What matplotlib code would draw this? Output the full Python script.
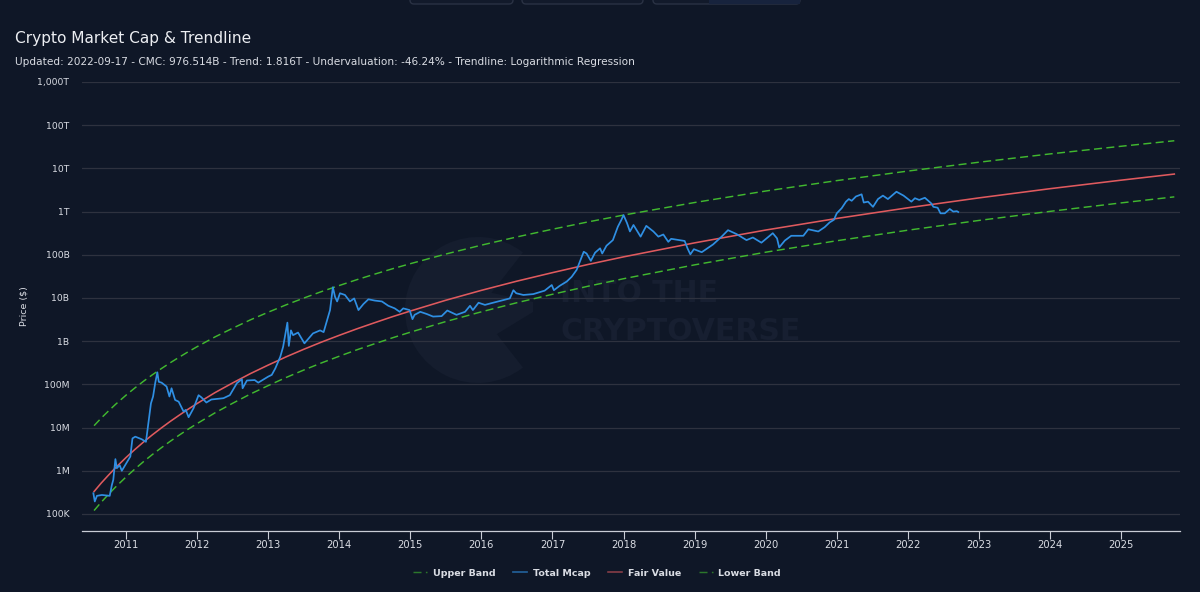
import numpy as np
import matplotlib
matplotlib.use("Agg")
import matplotlib.pyplot as plt
from matplotlib.patches import Wedge, FancyBboxPatch, Rectangle, Polygon

# all caps are log10 of USD
band_years = [2010.55, 2010.65, 2010.75, 2010.85, 2011, 2011.12, 2011.25, 2011.37, 2011.5, 2011.62, 2011.75, 2011.87,
              2012, 2012.25, 2012.5, 2012.75, 2013, 2013.25, 2013.5, 2013.75, 2014, 2014.25, 2014.5, 2014.75,
              2015, 2015.5, 2016, 2016.5, 2017, 2017.5, 2018, 2019, 2020, 2021, 2022, 2023, 2024, 2025, 2025.75]
upper_band = [7.044, 7.219, 7.380, 7.535, 7.751, 7.912, 8.078, 8.222, 8.369, 8.499, 8.632, 8.751,
              8.873, 9.098, 9.300, 9.494, 9.671, 9.840, 9.998, 10.148, 10.289, 10.425, 10.553, 10.677,
              10.794, 11.018, 11.223, 11.414, 11.592, 11.761, 11.919, 12.210, 12.476, 12.717, 12.938, 13.143, 13.335, 13.512, 13.640]
fair_value = [5.520, 5.715, 5.894, 6.067, 6.307, 6.487, 6.672, 6.832, 6.996, 7.141, 7.289, 7.422,
              7.558, 7.808, 8.034, 8.250, 8.447, 8.636, 8.812, 8.979, 9.136, 9.287, 9.429, 9.568,
              9.698, 9.948, 10.177, 10.390, 10.587, 10.776, 10.952, 11.276, 11.573, 11.841, 12.088, 12.317, 12.530, 12.727, 12.869]
lower_band = [5.080, 5.272, 5.449, 5.620, 5.858, 6.035, 6.218, 6.376, 6.538, 6.681, 6.828, 6.959,
              7.093, 7.340, 7.563, 7.777, 7.972, 8.158, 8.332, 8.497, 8.652, 8.802, 8.942, 9.079,
              9.208, 9.455, 9.680, 9.891, 10.086, 10.272, 10.446, 10.767, 11.060, 11.325, 11.569, 11.795, 12.005, 12.201, 12.341]

mcap_years = [2010.54, 2010.56, 2010.59, 2010.66, 2010.77, 2010.80, 2010.82, 2010.85, 2010.87, 2010.91, 2010.94,
              2011.01, 2011.06, 2011.09, 2011.13, 2011.22, 2011.28, 2011.31, 2011.35, 2011.38, 2011.41, 2011.44,
              2011.46, 2011.50, 2011.57, 2011.61, 2011.64, 2011.69, 2011.74, 2011.81, 2011.84, 2011.88, 2011.95,
              2012.02, 2012.06, 2012.13, 2012.20, 2012.37, 2012.46, 2012.56, 2012.63, 2012.64, 2012.70, 2012.81,
              2012.86, 2013.00, 2013.05, 2013.10, 2013.17, 2013.21, 2013.27, 2013.29, 2013.32, 2013.35, 2013.42,
              2013.51, 2013.63, 2013.73, 2013.78, 2013.87, 2013.91, 2013.94, 2013.97, 2014.01, 2014.08, 2014.15,
              2014.21, 2014.27, 2014.34, 2014.41, 2014.50, 2014.60, 2014.69, 2014.78, 2014.85, 2014.90, 2014.99,
              2015.03, 2015.06, 2015.14, 2015.23, 2015.32, 2015.44, 2015.52, 2015.65, 2015.77, 2015.84, 2015.88,
              2015.96, 2016.05, 2016.14, 2016.40, 2016.45, 2016.49, 2016.59, 2016.73, 2016.89, 2016.99, 2017.02,
              2017.10, 2017.20, 2017.27, 2017.34, 2017.40, 2017.44, 2017.48, 2017.54, 2017.60, 2017.67, 2017.70,
              2017.76, 2017.85, 2017.92, 2017.97, 2018.00, 2018.05, 2018.09, 2018.14, 2018.24, 2018.32, 2018.42,
              2018.49, 2018.56, 2018.63, 2018.67, 2018.86, 2018.90, 2018.94, 2018.99, 2019.10, 2019.26, 2019.38,
              2019.47, 2019.59, 2019.73, 2019.82, 2019.94, 2020.10, 2020.16, 2020.19, 2020.27, 2020.36, 2020.53,
              2020.60, 2020.74, 2020.83, 2020.90, 2020.96, 2021.00, 2021.07, 2021.13, 2021.17, 2021.21, 2021.27,
              2021.35, 2021.38, 2021.44, 2021.51, 2021.58, 2021.65, 2021.72, 2021.84, 2021.94, 2022.05, 2022.10,
              2022.16, 2022.24, 2022.33, 2022.36, 2022.42, 2022.46, 2022.52, 2022.59, 2022.64, 2022.69, 2022.71]
mcap = [5.48, 5.29, 5.42, 5.44, 5.42, 5.67, 5.79, 6.27, 6.06, 6.13, 6.00,
        6.19, 6.33, 6.75, 6.79, 6.73, 6.67, 7.06, 7.56, 7.72, 8.03, 8.28,
        8.06, 8.04, 7.95, 7.72, 7.91, 7.64, 7.60, 7.37, 7.41, 7.24, 7.45,
        7.75, 7.70, 7.58, 7.65, 7.68, 7.75, 8.03, 8.12, 7.91, 8.09, 8.10,
        8.04, 8.18, 8.22, 8.37, 8.64, 8.87, 9.43, 8.89, 9.25, 9.14, 9.20,
        8.95, 9.18, 9.25, 9.21, 9.72, 10.25, 10.03, 9.92, 10.11, 10.07, 9.92,
        9.99, 9.72, 9.86, 9.97, 9.94, 9.92, 9.82, 9.76, 9.68, 9.76, 9.72,
        9.51, 9.61, 9.68, 9.63, 9.57, 9.58, 9.71, 9.61, 9.68, 9.82, 9.72,
        9.89, 9.84, 9.88, 9.99, 10.18, 10.11, 10.07, 10.09, 10.17, 10.30, 10.18,
        10.28, 10.38, 10.49, 10.65, 10.90, 11.07, 11.03, 10.86, 11.05, 11.15, 11.03,
        11.21, 11.34, 11.65, 11.81, 11.92, 11.73, 11.54, 11.69, 11.42, 11.67, 11.54,
        11.42, 11.47, 11.30, 11.37, 11.32, 11.15, 11.01, 11.13, 11.06, 11.24, 11.42,
        11.57, 11.48, 11.34, 11.40, 11.28, 11.50, 11.38, 11.17, 11.33, 11.44, 11.44,
        11.59, 11.54, 11.64, 11.75, 11.81, 11.96, 12.08, 12.23, 12.29, 12.25, 12.35,
        12.40, 12.21, 12.23, 12.11, 12.29, 12.37, 12.29, 12.46, 12.37, 12.23, 12.31,
        12.27, 12.32, 12.19, 12.11, 12.09, 11.96, 11.96, 12.06, 12.00, 12.01, 11.99]

year_ticks = list(range(2011, 2026))
cap_ticks = [1e5, 1e6, 1e7, 1e8, 1e9, 1e10, 1e11, 1e12, 1e13, 1e14, 1e15]
cap_labels = ["100K", "1M", "10M", "100M", "1B", "10B", "100B", "1T", "10T", "100T", "1,000T"]

BG = "#0f1727"
GRID = "#2e323f"
TEXT = "#d9dce3"
MARK = "#151d2e"

fig = plt.figure(figsize=(12, 5.92), dpi=100, facecolor=BG)

# pixel-space layer for the watermark and the cut-off buttons at the top
bg = fig.add_axes([0, 0, 1, 1], zorder=0)
bg.set_xlim(0, 1200)
bg.set_ylim(592, 0)
bg.axis("off")
bg.add_patch(Wedge((478, 310), 73, 52, 308, facecolor=MARK, edgecolor="none"))
bg.add_patch(Polygon([(470, 288), (533, 302), (533, 312), (497, 334), (470, 334)], facecolor=MARK, edgecolor="none"))
bg.text(560, 293, "INTO THE", fontsize=21.5, fontweight="bold", color="#171f31", va="center")
bg.text(560, 332, "CRYPTOVERSE", fontsize=21.5, fontweight="bold", color="#171f31", va="center")
for x0, x1 in [(410, 513), (522, 643), (653, 800)]:
    bg.add_patch(FancyBboxPatch((x0, -12), x1 - x0, 16, boxstyle="round,pad=0,rounding_size=4",
                                facecolor="#121a2b", edgecolor="#2a3244", linewidth=1))
bg.add_patch(Rectangle((709, -2), 91, 5.5, facecolor="#17233d", edgecolor="none"))

ax = fig.add_axes([82 / 1200, 1 - 531 / 592, 1098 / 1200, 449 / 592], zorder=1)
ax.patch.set_alpha(0)

to_usd = lambda vals: 10 ** np.array(vals)
dash = (0, (5.5, 3))
ax.plot(band_years, to_usd(upper_band), color="#41b82f", lw=1.05, linestyle=dash, label="Upper Band", zorder=3)
ax.plot(mcap_years, to_usd(mcap), color="#2f8fe3", lw=1.25, label="Total Mcap", zorder=4)
ax.plot(band_years, to_usd(fair_value), color="#df5a5e", lw=1.15, label="Fair Value", zorder=3)
ax.plot(band_years, to_usd(lower_band), color="#41b82f", lw=1.05, linestyle=dash, label="Lower Band", zorder=3)

ax.set_yscale("log")
ax.set_xlim(2010.38, 2025.83)
ax.set_ylim(10 ** 4.606, 1e15)
ax.set_yticks(cap_ticks)
ax.set_yticklabels(cap_labels)
ax.minorticks_off()
ax.set_xticks(year_ticks)
ax.set_xticklabels([str(y) for y in year_ticks])
ax.grid(axis="y", color=GRID, lw=0.9)
ax.set_axisbelow(True)
for side in ["top", "right", "left"]:
    ax.spines[side].set_visible(False)
ax.spines["bottom"].set_color("#c9cdd6")
ax.spines["bottom"].set_linewidth(0.9)
ax.tick_params(axis="x", color="#c9cdd6", length=5.8, width=0.8, labelcolor=TEXT, labelsize=7.2, pad=0.5)
ax.tick_params(axis="y", length=0, labelcolor=TEXT, labelsize=6.7, pad=9)
ax.set_ylabel("Price ($)", color=TEXT, fontsize=6.8)
ax.yaxis.set_label_coords((28 - 82) / 1098, 0.5)

fig.text(15 / 1200, 1 - 39 / 592, "Crypto Market Cap & Trendline", color="#eceef2", fontsize=11.1, va="center")
fig.text(15 / 1200, 1 - 62 / 592,
         "Updated: 2022-09-17 - CMC: 976.514B - Trend: 1.816T - Undervaluation: -46.24% - Trendline: Logarithmic Regression",
         color=TEXT, fontsize=7.59, va="center")

leg = ax.legend(loc="center", bbox_to_anchor=(597 / 1200, 1 - 573 / 592), bbox_transform=fig.transFigure,
                ncol=4, frameon=False, handlelength=1.5, columnspacing=1.9, handletextpad=0.55,
                prop={"weight": "bold", "size": 6.8})
for text in leg.get_texts():
    text.set_color(TEXT)
for line in leg.get_lines():
    line.set_alpha(0.6)

fig.savefig("out.png", dpi=100, facecolor=BG)
